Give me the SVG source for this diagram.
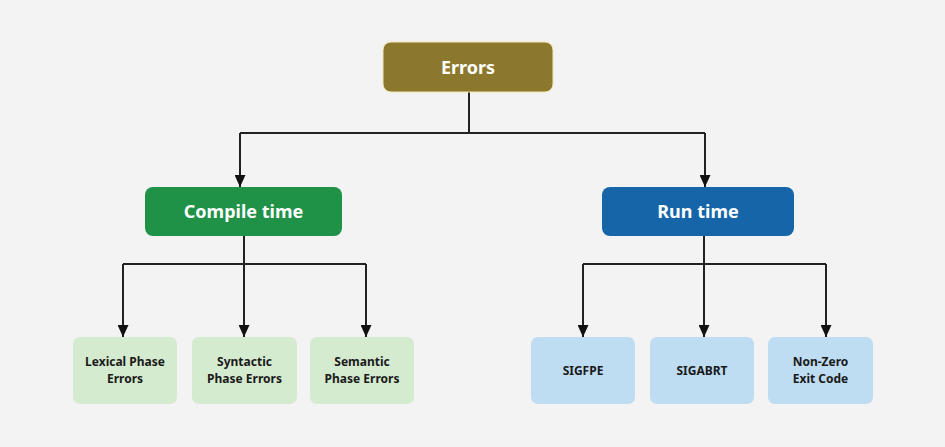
<svg xmlns="http://www.w3.org/2000/svg" width="945" height="447" viewBox="0 0 945 447">
<style>
.t{font-family:"Noto Sans","Open Sans",sans-serif;font-weight:bold;text-anchor:middle}
.big{font-size:18px;fill:#fff}
.sm{font-size:12px;fill:#1a1a1a}
.c{fill:none;stroke:#222;stroke-width:2}
</style>
<defs>
<marker id="ah" viewBox="0 0 12 11" refX="12" refY="5.5" markerWidth="12" markerHeight="11" markerUnits="userSpaceOnUse" orient="auto">
<path d="M0,0 L12,5.5 L0,11 Z" fill="#111"/>
</marker>
</defs>
<rect width="945" height="447" fill="#f3f3f3"/>
<g id="connectors">
<path class="c" d="M469,92 V133"/>
<path class="c" d="M240,133 H705"/>
<path class="c" d="M240,133 V187" marker-end="url(#ah)"/>
<path class="c" d="M705,133 V187" marker-end="url(#ah)"/>
<path class="c" d="M244,236 V264"/>
<path class="c" d="M123,264 H366"/>
<path class="c" d="M123,264 V337" marker-end="url(#ah)"/>
<path class="c" d="M244,264 V337" marker-end="url(#ah)"/>
<path class="c" d="M366,264 V337" marker-end="url(#ah)"/>
<path class="c" d="M704,236 V264"/>
<path class="c" d="M583,264 H826"/>
<path class="c" d="M583,264 V337" marker-end="url(#ah)"/>
<path class="c" d="M704,264 V337" marker-end="url(#ah)"/>
<path class="c" d="M826,264 V337" marker-end="url(#ah)"/>
</g>
<g id="errors">
<rect x="383" y="42" width="170" height="50" rx="8" fill="#8b782c" stroke="#f4e6b8" stroke-width="1"/>
<text class="t big" x="468" y="74">Errors</text>
</g>
<g id="compile">
<rect x="145" y="187" width="197" height="49" rx="8" fill="#1f9248"/>
<text class="t big" x="243.5" y="218">Compile time</text>
</g>
<g id="run">
<rect x="602" y="187" width="192" height="49" rx="8" fill="#1565a8"/>
<text class="t big" x="698" y="218">Run time</text>
</g>
<g id="lexical">
<rect x="73" y="337" width="104" height="67" rx="7" fill="#d5ebcf"/>
<text class="t sm" x="125" y="366">Lexical Phase</text>
<text class="t sm" x="125" y="382.5">Errors</text>
</g>
<g id="syntactic">
<rect x="192" y="337" width="105" height="67" rx="7" fill="#d5ebcf"/>
<text class="t sm" x="244.5" y="366">Syntactic</text>
<text class="t sm" x="244.5" y="382.5">Phase Errors</text>
</g>
<g id="semantic">
<rect x="310" y="337" width="104" height="67" rx="7" fill="#d5ebcf"/>
<text class="t sm" x="362" y="366">Semantic</text>
<text class="t sm" x="362" y="382.5">Phase Errors</text>
</g>
<g id="sigfpe">
<rect x="531" y="337" width="104" height="67" rx="7" fill="#bedcf2"/>
<text class="t sm" x="583" y="375">SIGFPE</text>
</g>
<g id="sigabrt">
<rect x="650" y="337" width="104" height="67" rx="7" fill="#bedcf2"/>
<text class="t sm" x="702" y="375">SIGABRT</text>
</g>
<g id="nonzero">
<rect x="768" y="337" width="105" height="67" rx="7" fill="#bedcf2"/>
<text class="t sm" x="820.5" y="366">Non-Zero</text>
<text class="t sm" x="820.5" y="382.5">Exit Code</text>
</g>
</svg>
